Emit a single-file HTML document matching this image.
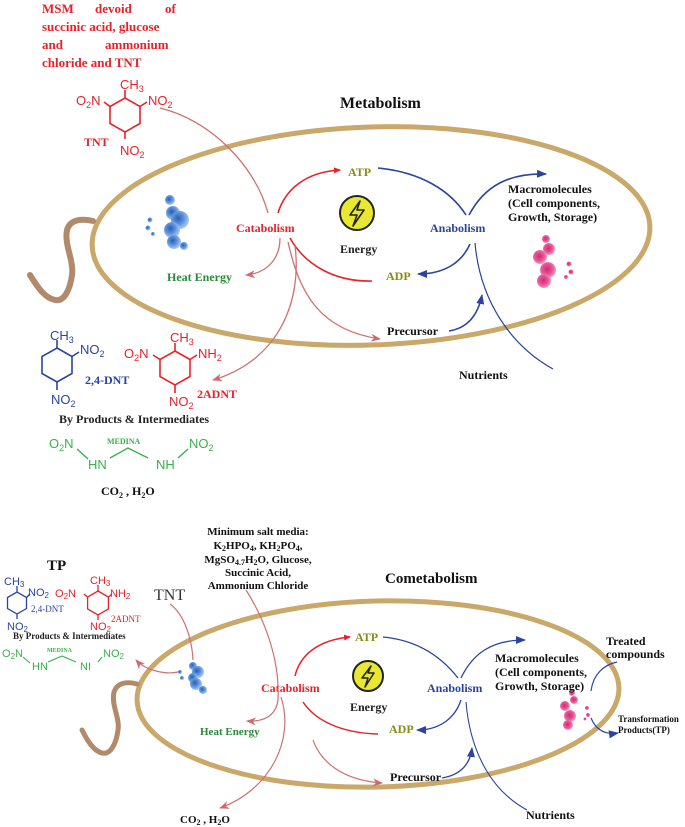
<!DOCTYPE html>
<html><head><meta charset="utf-8"><style>
html,body{margin:0;padding:0;background:#fff;}
svg{display:block;}
text{font-family:"Liberation Serif",serif;font-weight:bold;}
.s{font-family:"Liberation Sans",sans-serif;font-weight:normal;}
</style></head><body>
<svg width="685" height="827" viewBox="0 0 685 827" xmlns="http://www.w3.org/2000/svg">
<defs>
<marker id="ar" markerWidth="8" markerHeight="8" refX="6" refY="3" orient="auto" markerUnits="userSpaceOnUse"><path d="M0,0 L7,3 L0,6 Z" fill="#e8222a"/></marker>
<marker id="ap" markerWidth="12" markerHeight="10" refX="9" refY="4" orient="auto" markerUnits="userSpaceOnUse"><path d="M0,0 L10,4 L0,8 L3,4 Z" fill="#d06a6a"/></marker>
<marker id="ab" markerWidth="12" markerHeight="10" refX="9" refY="4" orient="auto" markerUnits="userSpaceOnUse"><path d="M0,0 L10,4 L0,8 Z" fill="#2a44a0"/></marker>
<radialGradient id="bc" cx="40%" cy="40%" r="60%"><stop offset="0" stop-color="#2a5fb0"/><stop offset="0.5" stop-color="#5a8fd8"/><stop offset="1" stop-color="#a8c8f0"/></radialGradient>
<radialGradient id="pc" cx="45%" cy="45%" r="60%"><stop offset="0" stop-color="#d02a70"/><stop offset="0.6" stop-color="#e85a9a"/><stop offset="1" stop-color="#f4b0cc"/></radialGradient>
</defs>

<!-- ===== TOP ===== -->
<text x="42" y="13" fill="#e8222a" font-size="13">MSM</text><text x="95" y="13" fill="#e8222a" font-size="13">devoid</text><text x="165" y="13" fill="#e8222a" font-size="13">of</text>
<text x="42" y="31" fill="#e8222a" font-size="13">succinic acid, glucose</text>
<text x="42" y="49" fill="#e8222a" font-size="13">and</text><text x="105" y="49" fill="#e8222a" font-size="13">ammonium</text>
<text x="42" y="67" fill="#e8222a" font-size="13">chloride and TNT</text>

<g fill="none" stroke="#e8222a" stroke-width="1.6">
<polygon points="125,98 140,106.5 140,123.5 125,132 110,123.5 110,106.5"/>
<line x1="125" y1="98" x2="125" y2="90"/><line x1="140" y1="106.5" x2="147" y2="102"/><line x1="110" y1="106.5" x2="104" y2="102"/><line x1="125" y1="132" x2="125" y2="139"/>
</g>
<text class="s" x="120" y="89" fill="#e8222a" font-size="13">CH<tspan font-size="9" dy="3">3</tspan></text>
<text class="s" x="76" y="105" fill="#e8222a" font-size="13">O<tspan font-size="9" dy="3">2</tspan><tspan dy="-3">N</tspan></text>
<text class="s" x="148" y="105" fill="#e8222a" font-size="13">NO<tspan font-size="9" dy="3">2</tspan></text>
<text class="s" x="120" y="155" fill="#e8222a" font-size="13">NO<tspan font-size="9" dy="3">2</tspan></text>
<text x="84" y="146" fill="#e8222a" font-size="12">TNT</text>

<text x="340" y="108" fill="#111" font-size="16">Metabolism</text>

<ellipse cx="371" cy="236" rx="279" ry="109" fill="none" stroke="#c9a86a" stroke-width="5" transform="rotate(-2 371 236)"/>

<!-- worm top -->
<path d="M93,221 C80,218 70,220 67,230 C64,245 74,260 72,275 C70,290 64,302 55,300 C45,298 38,288 30,275" fill="none" stroke="#b08a6a" stroke-width="6" stroke-linecap="round"/>

<g fill="url(#bc)">
<circle cx="170" cy="200" r="5"/><circle cx="173" cy="213" r="7"/><circle cx="180" cy="220" r="9"/><circle cx="172" cy="230" r="8"/><circle cx="174" cy="242" r="7"/><circle cx="184" cy="246" r="4"/><circle cx="150" cy="220" r="2.5"/><circle cx="148" cy="228" r="2.5"/><circle cx="153" cy="234" r="2"/>
</g>
<g fill="url(#pc)">
<circle cx="546" cy="239" r="4"/><circle cx="549" cy="249" r="6"/><circle cx="540" cy="257" r="7"/><circle cx="548" cy="270" r="8"/><circle cx="544" cy="281" r="7"/><circle cx="569" cy="264" r="2.5"/><circle cx="571" cy="272" r="2.5"/><circle cx="566" cy="277" r="2"/>
</g>

<text x="236" y="232" fill="#e8222a" font-size="12">Catabolism</text>
<text x="348" y="176" fill="#8a8a1a" font-size="12">ATP</text>
<circle cx="357" cy="213" r="17" fill="#e8e830" stroke="#222" stroke-width="2"/>
<path d="M360,201 L350,215 L357,215 L353,226 L364,210 L357,210 Z" fill="none" stroke="#222" stroke-width="1.6" stroke-linejoin="round"/>
<text x="340" y="253" fill="#222" font-size="12">Energy</text>
<text x="430" y="232" fill="#2a44a0" font-size="12">Anabolism</text>
<text x="386" y="280" fill="#8a8a1a" font-size="12">ADP</text>
<text x="167" y="281" fill="#2a8a3a" font-size="12">Heat Energy</text>
<text x="387" y="335" fill="#111" font-size="12">Precursor</text>
<text x="459" y="379" fill="#111" font-size="12">Nutrients</text>
<text x="508" y="193" fill="#111" font-size="12">Macromolecules</text>
<text x="508" y="207" fill="#111" font-size="12">(Cell components,</text>
<text x="508" y="221" fill="#111" font-size="12">Growth, Storage)</text>

<path d="M278,213 C285,190 305,172 340,170" fill="none" stroke="#e8222a" stroke-width="1.6" marker-end="url(#ar)"/>
<path d="M290,238 C305,265 335,282 372,281" fill="none" stroke="#e8222a" stroke-width="1.6"/>
<path d="M378,168 C420,172 450,190 466,215" fill="none" stroke="#2a44a0" stroke-width="1.6"/>
<path d="M469,215 C485,185 510,173 546,174" fill="none" stroke="#2a44a0" stroke-width="1.6" marker-end="url(#ab)"/>
<path d="M470,244 C462,262 445,274 418,274" fill="none" stroke="#2a44a0" stroke-width="1.6" marker-end="url(#ab)"/>
<path d="M449,331 C468,328 478,315 482,295" fill="none" stroke="#2a44a0" stroke-width="1.6" marker-end="url(#ab)"/>
<path d="M475,243 C480,300 510,345 553,369" fill="none" stroke="#2a44a0" stroke-width="1.2"/>
<path d="M160,108 C210,120 255,165 268,213" fill="none" stroke="#d07070" stroke-width="1.3"/>
<path d="M280,238 C280,258 268,273 246,275" fill="none" stroke="#d07070" stroke-width="1.3" marker-end="url(#ap)"/>
<path d="M295,246 C302,300 280,360 213,380" fill="none" stroke="#d07070" stroke-width="1.3" marker-end="url(#ap)"/>
<path d="M288,242 C300,295 320,330 380,339" fill="none" stroke="#d07070" stroke-width="1.3" marker-end="url(#ap)"/>

<g fill="none" stroke="#2a44a0" stroke-width="1.6">
<polygon points="57,348 72,356.5 72,373.5 57,382 42,373.5 42,356.5"/>
<line x1="57" y1="348" x2="57" y2="340"/><line x1="72" y1="356.5" x2="79" y2="352"/><line x1="57" y1="382" x2="57" y2="390"/>
</g>
<text class="s" x="50" y="340" fill="#2a44a0" font-size="13">CH<tspan font-size="9" dy="3">3</tspan></text>
<text class="s" x="80" y="354" fill="#2a44a0" font-size="13">NO<tspan font-size="9" dy="3">2</tspan></text>
<text class="s" x="51" y="404" fill="#2a44a0" font-size="13">NO<tspan font-size="9" dy="3">2</tspan></text>
<text x="85" y="384" fill="#2a44a0" font-size="12">2,4-DNT</text>

<g fill="none" stroke="#e8222a" stroke-width="1.6">
<polygon points="175,351 190,359.5 190,376.5 175,385 160,376.5 160,359.5"/>
<line x1="175" y1="351" x2="175" y2="343"/><line x1="190" y1="359.5" x2="197" y2="355"/><line x1="160" y1="359.5" x2="153" y2="355"/><line x1="175" y1="385" x2="175" y2="393"/>
</g>
<text class="s" x="170" y="342" fill="#e8222a" font-size="13">CH<tspan font-size="9" dy="3">3</tspan></text>
<text class="s" x="124" y="358" fill="#e8222a" font-size="13">O<tspan font-size="9" dy="3">2</tspan><tspan dy="-3">N</tspan></text>
<text class="s" x="198" y="358" fill="#e8222a" font-size="13">NH<tspan font-size="9" dy="3">2</tspan></text>
<text class="s" x="169" y="406" fill="#e8222a" font-size="13">NO<tspan font-size="9" dy="3">2</tspan></text>
<text x="197" y="398" fill="#e8222a" font-size="12">2ADNT</text>
<text x="59" y="423" fill="#222" font-size="12">By Products &amp; Intermediates</text>

<text x="107" y="444" fill="#3ab04a" font-size="8">MEDINA</text>
<text class="s" x="49" y="448" fill="#3ab04a" font-size="13">O<tspan font-size="9" dy="3">2</tspan><tspan dy="-3">N</tspan></text>
<text class="s" x="189" y="448" fill="#3ab04a" font-size="13">NO<tspan font-size="9" dy="3">2</tspan></text>
<text class="s" x="88" y="469" fill="#3ab04a" font-size="13">HN</text>
<text class="s" x="156" y="469" fill="#3ab04a" font-size="13">NH</text>
<path d="M77,449 L88,459 M110,458 L128,448 L148,458 M178,458 L188,449" fill="none" stroke="#3ab04a" stroke-width="1.4"/>
<text x="101" y="495" fill="#111" font-size="12">CO<tspan font-size="8" dy="3">2</tspan><tspan dy="-3"> , H</tspan><tspan font-size="8" dy="3">2</tspan><tspan dy="-3">O</tspan></text>

<!-- ===== BOTTOM ===== -->
<g font-size="11" fill="#111" text-anchor="middle">
<text x="258" y="535">Minimum salt media:</text>
<text x="258" y="549">K<tspan font-size="8" dy="2">2</tspan><tspan dy="-2">HPO</tspan><tspan font-size="8" dy="2">4</tspan><tspan dy="-2">, KH</tspan><tspan font-size="8" dy="2">2</tspan><tspan dy="-2">PO</tspan><tspan font-size="8" dy="2">4</tspan><tspan dy="-2">,</tspan></text>
<text x="258" y="563">MgSO<tspan font-size="8" dy="2">4.7</tspan><tspan dy="-2">H</tspan><tspan font-size="8" dy="2">2</tspan><tspan dy="-2">O, Glucose,</tspan></text>
<text x="258" y="576">Succinic Acid,</text>
<text x="258" y="589">Ammonium Chloride</text>
</g>
<text x="47" y="570" fill="#111" font-size="15">TP</text>
<text x="154" y="600" fill="#333" font-size="16" style="font-weight:normal">TNT</text>
<text x="385" y="583" fill="#111" font-size="15">Cometabolism</text>

<g fill="none" stroke="#2a44a0" stroke-width="1.3">
<polygon points="17,592 26.5,597.5 26.5,608.5 17,614 7.5,608.5 7.5,597.5"/>
<line x1="17" y1="592" x2="17" y2="586"/><line x1="26.5" y1="597.5" x2="30" y2="594"/><line x1="17" y1="614" x2="17" y2="619"/>
</g>
<text class="s" x="4" y="585" fill="#2a44a0" font-size="11">CH<tspan font-size="8" dy="2">3</tspan></text>
<text class="s" x="28" y="596" fill="#2a44a0" font-size="11">NO<tspan font-size="8" dy="2">2</tspan></text>
<text class="s" x="7" y="630" fill="#2a44a0" font-size="11">NO<tspan font-size="8" dy="2">2</tspan></text>
<text x="31" y="612" fill="#2a44a0" font-size="9" style="font-weight:normal">2,4-DNT</text>
<g fill="none" stroke="#e8222a" stroke-width="1.3">
<polygon points="98,591 108.4,597 108.4,609 98,615 87.6,609 87.6,597"/>
<line x1="98" y1="591" x2="98" y2="585"/><line x1="108.4" y1="597" x2="112" y2="594"/><line x1="87.6" y1="597" x2="84" y2="594"/><line x1="98" y1="615" x2="98" y2="620"/>
</g>
<text class="s" x="90" y="584" fill="#e8222a" font-size="11">CH<tspan font-size="8" dy="2">3</tspan></text>
<text class="s" x="55" y="597" fill="#e8222a" font-size="11">O<tspan font-size="8" dy="2">2</tspan><tspan dy="-2">N</tspan></text>
<text class="s" x="110" y="597" fill="#e8222a" font-size="11">NH<tspan font-size="8" dy="2">2</tspan></text>
<text class="s" x="90" y="630" fill="#e8222a" font-size="11">NO<tspan font-size="8" dy="2">2</tspan></text>
<text x="111" y="622" fill="#e8222a" font-size="9" style="font-weight:normal">2ADNT</text>
<text x="13" y="639" fill="#222" font-size="9">By Products &amp; Intermediates</text>
<text x="47" y="652" fill="#3ab04a" font-size="6">MEDINA</text>
<text class="s" x="2" y="657" fill="#3ab04a" font-size="11">O<tspan font-size="8" dy="2">2</tspan><tspan dy="-2">N</tspan></text>
<text class="s" x="103" y="657" fill="#3ab04a" font-size="11">NO<tspan font-size="8" dy="2">2</tspan></text>
<text class="s" x="32" y="670" fill="#3ab04a" font-size="11">HN</text>
<text class="s" x="80" y="670" fill="#3ab04a" font-size="11">NI</text>
<path d="M23,657 L30,663 M48,662 L62,656 L76,662 M98,662 L102,657" fill="none" stroke="#3ab04a" stroke-width="1.1"/>

<ellipse cx="378" cy="694" rx="241" ry="93" fill="none" stroke="#c9a86a" stroke-width="5" transform="rotate(-1.5 378 694)"/>
<!-- worm bottom -->
<path d="M137,684 C126,681 117,683 114,692 C111,705 120,718 118,730 C116,745 110,755 102,753 C94,751 88,742 82,730" fill="none" stroke="#b08a6a" stroke-width="5" stroke-linecap="round"/>

<g fill="url(#bc)">
<circle cx="193" cy="666" r="4"/><circle cx="198" cy="672" r="6"/><circle cx="193" cy="678" r="5"/><circle cx="196" cy="684" r="6"/><circle cx="203" cy="690" r="4"/><circle cx="180" cy="672" r="2"/><circle cx="182" cy="678" r="2"/>
</g>
<g fill="url(#pc)">
<circle cx="572" cy="693" r="3"/><circle cx="574" cy="700" r="4"/><circle cx="565" cy="706" r="5"/><circle cx="570" cy="716" r="6"/><circle cx="568" cy="725" r="5"/><circle cx="587" cy="708" r="2"/><circle cx="588" cy="715" r="2"/><circle cx="585" cy="719" r="1.5"/>
</g>

<text x="261" y="692" fill="#e8222a" font-size="12">Catabolism</text>
<text x="355" y="641" fill="#8a8a1a" font-size="12">ATP</text>
<circle cx="368" cy="676" r="15" fill="#e8e830" stroke="#222" stroke-width="2"/>
<path d="M371,666 L362,678 L368,678 L365,687 L374,673 L368,673 Z" fill="none" stroke="#222" stroke-width="1.5" stroke-linejoin="round"/>
<text x="350" y="711" fill="#222" font-size="12">Energy</text>
<text x="427" y="692" fill="#2a44a0" font-size="12">Anabolism</text>
<text x="389" y="733" fill="#8a8a1a" font-size="12">ADP</text>
<text x="200" y="735" fill="#2a8a3a" font-size="11">Heat Energy</text>
<text x="390" y="781" fill="#111" font-size="12">Precursor</text>
<text x="526" y="819" fill="#111" font-size="12">Nutrients</text>
<text x="495" y="662" fill="#111" font-size="12">Macromolecules</text>
<text x="495" y="676" fill="#111" font-size="12">(Cell components,</text>
<text x="495" y="690" fill="#111" font-size="12">Growth, Storage)</text>
<text x="606" y="645" fill="#111" font-size="12">Treated</text>
<text x="606" y="658" fill="#111" font-size="12">compounds</text>
<text x="618" y="722" fill="#111" font-size="9">Transformation</text>
<text x="618" y="733" fill="#111" font-size="9">Products(TP)</text>
<text x="180" y="823" fill="#111" font-size="11">CO<tspan font-size="8" dy="2">2</tspan><tspan dy="-2"> , H</tspan><tspan font-size="8" dy="2">2</tspan><tspan dy="-2">O</tspan></text>

<path d="M295,676 C300,655 318,640 350,637" fill="none" stroke="#e8222a" stroke-width="1.5" marker-end="url(#ar)"/>
<path d="M303,702 C315,720 340,733 378,734" fill="none" stroke="#e8222a" stroke-width="1.5"/>
<path d="M383,637 C415,640 440,655 458,678" fill="none" stroke="#2a44a0" stroke-width="1.3"/>
<path d="M461,678 C472,655 490,640 525,640" fill="none" stroke="#2a44a0" stroke-width="1.3" marker-end="url(#ab)"/>
<path d="M461,700 C455,718 440,730 417,730" fill="none" stroke="#2a44a0" stroke-width="1.3" marker-end="url(#ab)"/>
<path d="M442,778 C460,775 470,765 472,748" fill="none" stroke="#2a44a0" stroke-width="1.3" marker-end="url(#ab)"/>
<path d="M466,702 C470,750 490,790 527,810" fill="none" stroke="#2a44a0" stroke-width="1.1"/>
<path d="M591,691 C593,675 603,665 617,662" fill="none" stroke="#2a44a0" stroke-width="1.2"/>
<path d="M591,718 C596,730 605,735 618,733" fill="none" stroke="#2a44a0" stroke-width="1.2" marker-end="url(#ab)"/>

<path d="M170,604 C185,615 192,640 193,660" fill="none" stroke="#d07070" stroke-width="1.2"/>
<path d="M178,672 C165,675 145,670 136,660" fill="none" stroke="#d07070" stroke-width="1.2" marker-end="url(#ap)"/>
<path d="M246,590 C265,620 280,660 278,700 C276,715 265,722 247,721" fill="none" stroke="#d07070" stroke-width="1.2" marker-end="url(#ap)"/>
<path d="M281,697 C295,740 270,790 220,808" fill="none" stroke="#d07070" stroke-width="1.2" marker-end="url(#ap)"/>
<path d="M313,740 C320,760 340,780 382,783" fill="none" stroke="#d07070" stroke-width="1.2" marker-end="url(#ap)"/>
</svg>
</body></html>
